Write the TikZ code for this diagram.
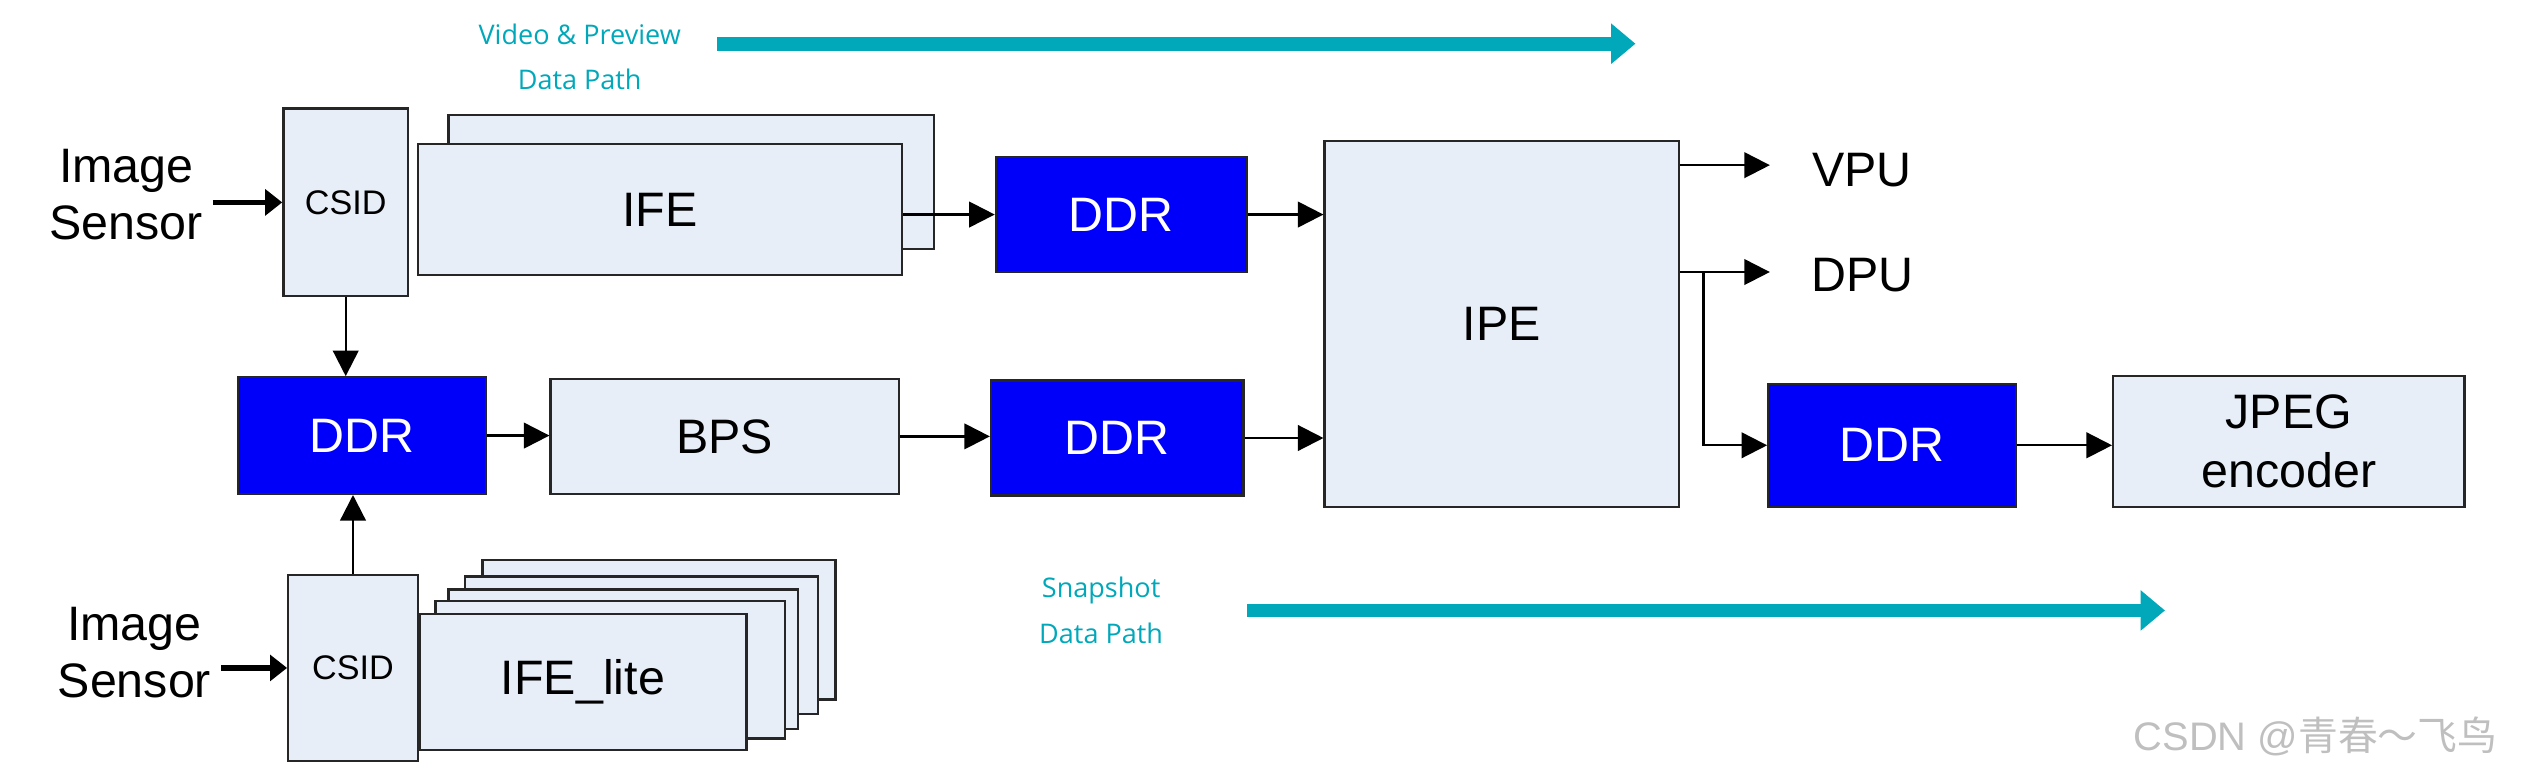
\documentclass[tikz,border=0pt]{standalone}
\usepackage{fontspec}
\setmainfont{Liberation Sans}
\newfontfamily\pathfont{Open Sans}
\newfontfamily\cjk{Noto Sans CJK SC}
\usetikzlibrary{arrows.meta}
\definecolor{boxfill}{RGB}{232,238,248}
\definecolor{ddrblue}{RGB}{0,0,250}
\definecolor{pathteal}{RGB}{0,168,186}
\begin{document}
\begin{tikzpicture}[x=0.02cm,y=-0.02cm,
  box/.style={draw=black!85,line width=0.8pt,fill=boxfill,inner sep=0pt,font=\fontsize{17}{20}\selectfont},
  ddr/.style={draw=black!85,line width=0.8pt,fill=ddrblue,text=white,inner sep=0pt,font=\fontsize{17}{20}\selectfont},
  csid/.style={box,font=\fontsize{12}{14}\selectfont},
  conn/.style={line width=0.8pt,-{Triangle[length=9pt,width=9pt]}},
  sensor/.style={line width=1.8pt,-{Triangle[length=6pt,width=9pt]}},
  label/.style={align=center,font=\fontsize{17}{20}\selectfont},
  datapath/.style={line width=0.17cm,pathteal,-{Triangle[length=0.3cm,width=0.48cm]}},
  pathtext/.style={text=pathteal,align=center,font=\pathfont\fontsize{9.5}{16}\selectfont}]
\useasboundingbox (0,0) rectangle (1568,479);
% top row
\node[csid,minimum width=1.54cm,minimum height=2.32cm] (csidA) at (213.5,125) {CSID};
\node[box,minimum width=6.0cm,minimum height=1.66cm] (ifeB) at (427,112.5) {};
\node[box,minimum width=5.98cm,minimum height=1.62cm] (ife) at (407.5,129.5) {IFE};
\node[ddr,minimum width=3.1cm,minimum height=1.42cm] (ddrA) at (692.5,132.5) {DDR};
\node[box,minimum width=4.38cm,minimum height=4.52cm] (ipe) at (927.5,200) {IPE};
\node[label] (vpu) at (1150,105) {VPU};
\node[label] (dpu) at (1150,170) {DPU};
\coordinate (vpuIn) at (1093,102);
\coordinate (dpuIn) at (1093,168);
\coordinate (br) at (1052,168);
% middle row
\node[ddr,minimum width=3.06cm,minimum height=1.44cm] (ddrB) at (223.5,269) {DDR};
\node[box,minimum width=4.3cm,minimum height=1.42cm] (bps) at (447.5,269.5) {BPS};
\node[ddr,minimum width=3.12cm,minimum height=1.42cm] (ddrC) at (690,270.5) {DDR};
\node[ddr,minimum width=3.06cm,minimum height=1.52cm] (ddrD) at (1168.5,275) {DDR};
\node[box,align=center,minimum width=4.34cm,minimum height=1.62cm,font=\fontsize{17}{21}\selectfont] (jpeg) at (1413.5,272.5) {JPEG\\encoder};
% bottom row
\node[box,minimum width=4.36cm,minimum height=1.72cm] (lite5) at (407,389) {};
\node[box,minimum width=4.36cm,minimum height=1.70cm] (lite4) at (396,398.5) {};
\node[box,minimum width=4.32cm,minimum height=1.72cm] (lite3) at (385,407) {};
\node[box,minimum width=4.32cm,minimum height=1.70cm] (lite2) at (377,413.5) {};
\node[box,minimum width=4.04cm,minimum height=1.68cm] (lite) at (360,421) {IFE\_lite};
\node[csid,minimum width=1.6cm,minimum height=2.3cm] (csidB) at (218,412.5) {CSID};
% sensors
\node[label] (sensA) at (78,120) {Image\\Sensor};
\node[label] (sensB) at (83,403) {Image\\Sensor};
\draw[sensor] (sensA.east |- csidA.west) -- (csidA.west);
\draw[sensor] (sensB.east |- csidB.west) -- (csidB.west);
% connectors
\draw[conn] (ife.east |- ddrA.west) -- (ddrA.west);
\draw[conn] (ddrA.east) -- (ddrA.east -| ipe.west);
\draw[conn] (ipe.east |- vpuIn) -- (vpuIn);
\draw[conn] (ipe.east |- dpuIn) -- (dpuIn);
\draw[conn] (br) |- (ddrD.west);
\draw[conn] (ddrD.east) -- (ddrD.east -| jpeg.west);
\draw[conn] (csidA.south) -- (csidA.south |- ddrB.north);
\draw[conn] (csidB.north) -- (csidB.north |- ddrB.south);
\draw[conn] (ddrB.east) -- (ddrB.east -| bps.west);
\draw[conn] (bps.east) -- (bps.east -| ddrC.west);
\draw[conn] (ddrC.east) -- (ddrC.east -| ipe.west);
% data paths
\node[pathtext] (vidTxt) at (358,35) {Video \& Preview\\Data Path};
\node[pathtext] (snapTxt) at (680,377) {Snapshot\\Data Path};
\coordinate (vidA) at (443,27);
\coordinate (vidB) at (1010,27);
\coordinate (snapA) at (770,377);
\coordinate (snapB) at (1337,377);
\draw[datapath] (vidA) -- (vidB);
\draw[datapath] (snapA) -- (snapB);
% watermark
\node[text=black!25,font=\fontsize{14}{16}\selectfont] (wm) at (1430,455) {CSDN @{\cjk 青春～飞鸟}};
\end{tikzpicture}
\end{document}
